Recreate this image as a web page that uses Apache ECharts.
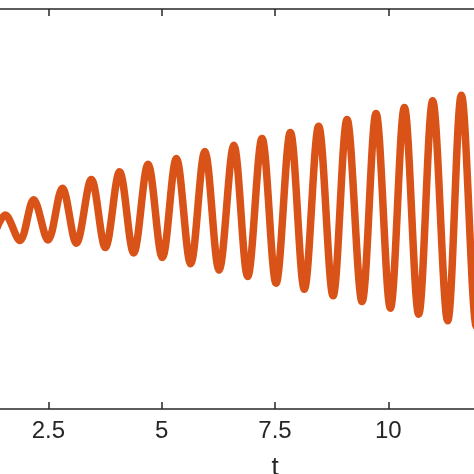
<!DOCTYPE html>
<html>
<head>
<meta charset="utf-8">
<script src="https://cdn.jsdelivr.net/npm/echarts@6/dist/echarts.min.js"></script>
<style>
html,body{margin:0;padding:0;background:#fff;overflow:hidden;width:474px;height:474px;position:relative;}
#chart{position:absolute;left:-65.3px;top:0;width:680px;height:474px;}
</style>
</head>
<body>
<div id="chart"></div>
<script>
// Extrema of the oscillation (t, value)
const tValues = [1.24, 1.551, 1.871, 2.176, 2.493, 2.809, 3.118, 3.449, 3.757, 4.071,
  4.382, 4.699, 5.015, 5.324, 5.639, 5.952, 6.266, 6.592, 6.897, 7.214,
  7.523, 7.839, 8.147, 8.463, 8.781, 9.089, 9.420, 9.729, 10.045, 10.354,
  10.669, 10.978, 11.309, 11.611, 11.942, 12.25];
const yValues = [-0.17, -0.03, -0.158, 0.046, -0.155, 0.104, -0.171, 0.148, -0.193, 0.186,
  -0.22, 0.224, -0.243, 0.253, -0.274, 0.288, -0.306, 0.319, -0.338, 0.353,
  -0.371, 0.383, -0.401, 0.414, -0.434, 0.448, -0.463, 0.478, -0.496, 0.508,
  -0.526, 0.541, -0.559, 0.569, -0.588, 0.60];
const xTickLabels = ['0', '2.5', '5', '7.5', '10', '12.5', '15'];
const xAxisName = 't';

const seriesData = tValues.map((t, i) => [t, yValues[i]]);
const axisColor = '#262626';

const chart = echarts.init(document.getElementById('chart'), null, {renderer: 'canvas'});
const baseX = {
  type: 'value', min: 0, max: 15, interval: 2.5,
  axisLine: {show: true, onZero: false, lineStyle: {color: axisColor, width: 1.5}},
  axisTick: {show: true, inside: true, length: 7, lineStyle: {color: axisColor, width: 1.5}},
  splitLine: {show: false}
};
chart.setOption({
  animation: false,
  backgroundColor: '#ffffff',
  grid: {left: 0, right: 0, top: 9, bottom: 65, containLabel: false, outerBoundsMode: 'none'},
  xAxis: [
    Object.assign({}, baseX, {
      position: 'bottom',
      name: xAxisName, nameLocation: 'middle', nameGap: 46,
      nameTextStyle: {color: axisColor, fontSize: 26, fontFamily: 'Liberation Sans'},
      axisLabel: {
        show: true, margin: 10, color: axisColor, fontSize: 24, fontFamily: 'Liberation Sans',
        formatter: v => xTickLabels[Math.round(v / 2.5)] ?? String(v)
      }
    }),
    Object.assign({}, baseX, {position: 'top', axisLabel: {show: false}})
  ],
  yAxis: [{type: 'value', min: -1, max: 1, show: false}],
  series: [{
    type: 'line', xAxisIndex: 0, data: seriesData, smooth: 0.34,
    showSymbol: false, symbol: 'none',
    lineStyle: {color: '#D95319', width: 7.5, cap: 'round', join: 'round'}
  }]
});
</script>
</body>
</html>
